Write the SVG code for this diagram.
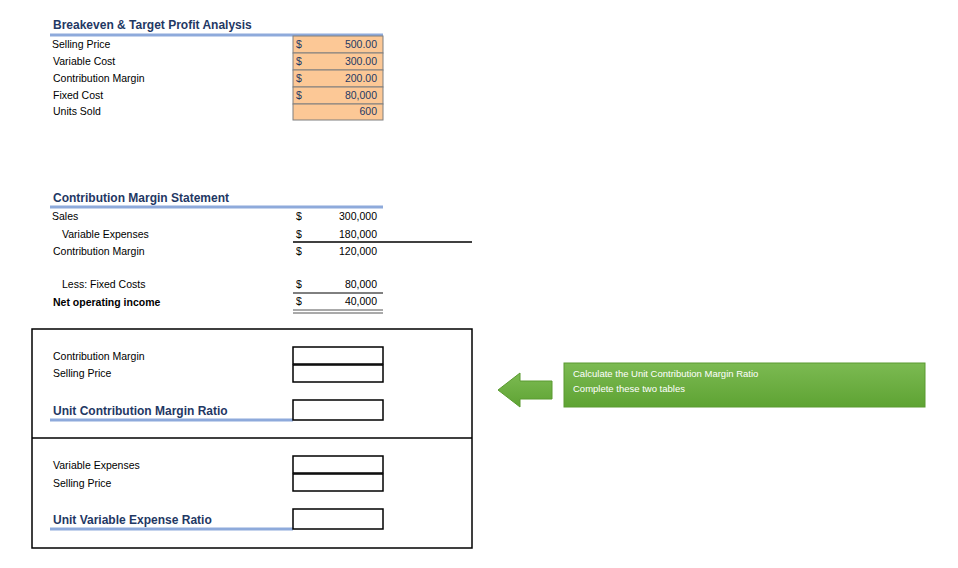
<svg xmlns="http://www.w3.org/2000/svg" width="958" height="568" viewBox="0 0 958 568">
<defs>
<linearGradient id="g" x1="0" y1="0" x2="0" y2="1"><stop offset="0" stop-color="#7cba52"/><stop offset="1" stop-color="#5ea333"/></linearGradient>
</defs>
<style>
text{font-family:"Liberation Sans",Arial,sans-serif;font-size:10.5px;fill:#000}
.h{font-size:12px;font-weight:bold;fill:#1f3864}
.v{text-anchor:end}
.b{fill:#1f3864}
.cell{fill:#fcc896;stroke:#7f7f7f;stroke-width:1}
.ul{stroke:#8eaadb;stroke-width:3}
.in{fill:#fff;stroke:#000;stroke-width:1.5}
.w{fill:#fff;font-size:9.5px}
</style>
<rect width="958" height="568" fill="#fff"/>
<g id="breakeven">
<text class="h" x="53" y="29">Breakeven &amp; Target Profit Analysis</text>
<line class="ul" x1="50" y1="35" x2="383" y2="35"/>
<rect class="cell" x="293" y="36" width="90" height="17"/>
<rect class="cell" x="293" y="53" width="90" height="17"/>
<rect class="cell" x="293" y="70" width="90" height="17"/>
<rect class="cell" x="293" y="87" width="90" height="17"/>
<rect class="cell" x="293" y="104" width="90" height="16"/>
<text x="52" y="48">Selling Price</text><text class="b" x="296" y="48">$</text><text class="v b" x="377" y="48">500.00</text>
<text x="53" y="65">Variable Cost</text><text class="b" x="296" y="65">$</text><text class="v b" x="377" y="65">300.00</text>
<text x="53" y="82">Contribution Margin</text><text class="b" x="296" y="82">$</text><text class="v b" x="377" y="82">200.00</text>
<text x="53" y="99">Fixed Cost</text><text class="b" x="296" y="99">$</text><text class="v b" x="377" y="99">80,000</text>
<text x="53" y="115">Units Sold</text><text class="v b" x="377" y="115">600</text>
</g>
<g id="cm-statement">
<text class="h" x="53" y="202">Contribution Margin Statement</text>
<line class="ul" x1="50" y1="207" x2="383" y2="207"/>
<text x="52" y="220">Sales</text><text x="296" y="220">$</text><text class="v" x="377" y="220">300,000</text>
<text x="62" y="238">Variable Expenses</text><text x="296" y="238">$</text><text class="v" x="377" y="238">180,000</text>
<line x1="293" y1="242" x2="472" y2="242" stroke="#000" stroke-width="1.5"/>
<text x="53" y="255">Contribution Margin</text><text x="296" y="255">$</text><text class="v" x="377" y="255">120,000</text>
<text x="62" y="288">Less: Fixed Costs</text><text x="296" y="288">$</text><text class="v" x="377" y="288">80,000</text>
<line x1="293" y1="293" x2="383" y2="293" stroke="#000"/>
<text x="53" y="306" font-weight="bold">Net operating income</text><text x="296" y="305">$</text><text class="v" x="377" y="305">40,000</text>
<line x1="293" y1="310" x2="383" y2="310" stroke="#555"/>
<line x1="293" y1="313" x2="383" y2="313" stroke="#555"/>
</g>
<g id="ratio-tables">
<rect x="32" y="329" width="440" height="219" fill="none" stroke="#000" stroke-width="1.5"/>
<line x1="32" y1="438" x2="472" y2="438" stroke="#000" stroke-width="1.5"/>
<text x="53" y="360">Contribution Margin</text>
<text x="53" y="377">Selling Price</text>
<text class="h" x="53" y="415">Unit Contribution Margin Ratio</text>
<line class="ul" x1="50" y1="420" x2="293" y2="420"/>
<rect class="in" x="293" y="347" width="90" height="17"/>
<rect class="in" x="293" y="365" width="90" height="17"/>
<rect class="in" x="293" y="400" width="90" height="20"/>
<text x="53" y="469">Variable Expenses</text>
<text x="53" y="487">Selling Price</text>
<text class="h" x="53" y="524">Unit Variable Expense Ratio</text>
<line class="ul" x1="50" y1="529" x2="293" y2="529"/>
<rect class="in" x="293" y="456" width="90" height="17"/>
<rect class="in" x="293" y="474" width="90" height="17"/>
<rect class="in" x="293" y="509" width="90" height="20"/>
</g>
<g id="connectors">
<polygon points="498,390 520,373 520,381 552,381 552,399 520,399 520,407" fill="url(#g)" stroke="#5a9a30"/>
</g>
<g id="note">
<rect x="564" y="363" width="361" height="44" fill="url(#g)" stroke="#5a9a30"/>
<text class="w" x="573" y="377">Calculate the  Unit Contribution Margin Ratio</text>
<text class="w" x="573" y="392">Complete these two tables</text>
</g>
</svg>
